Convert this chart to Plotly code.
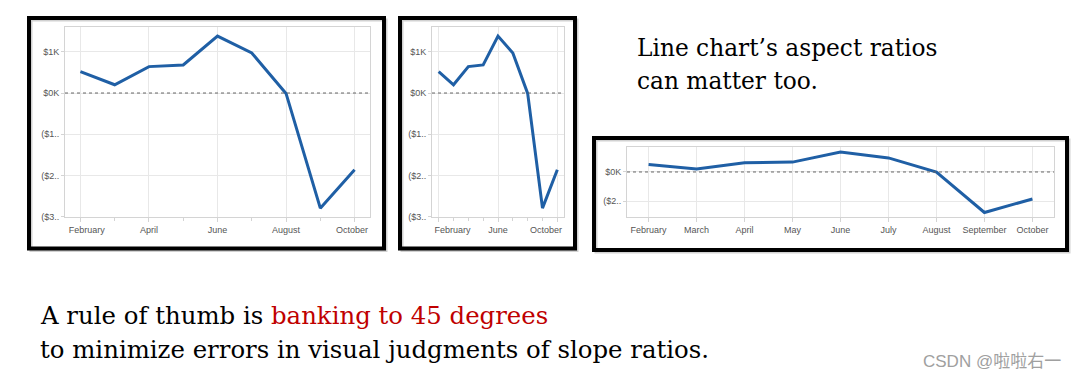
import plotly.graph_objects as go

months = ["February", "March", "April", "May", "June", "July", "August", "September", "October"]
profit = [520, 200, 640, 680, 1380, 970, -10, -2790, -1860]

y_tick_vals = [1000, 0, -1000, -2000, -3000]
y_tick_text = ["$1K", "$0K", "($1..", "($2..", "($3.."]
y_tick_vals_wide = [0, -2000]
y_tick_text_wide = ["$0K", "($2.."]

title_lines = ["Line chart\u2019s aspect ratios", "can matter too."]
rule_line1 = 'A rule of thumb is <span style="color:#c00000">banking to 45 degrees</span>'
rule_line2 = "to minimize errors in visual judgments of slope ratios."
watermark = "CSDN @\u5566\u5566\u53f3\u4e00"

W, H = 1072, 381
def fx(px):
    return px / W
def fy(py):
    return 1 - py / H

xs = list(range(len(months)))
LINE_COLOR = "#1f5fa5"
GRID = "#e8e8e8"
AXLINE = "#d4d4d4"
TICKFONT = dict(family="Liberation Sans, Arial, sans-serif", size=9, color="#555555")
NB = "\u00a0"

fig = go.Figure()

# (axis id, plot box px, label step, y vals, y text, y range, (left pad, right pad) for edge labels)
panels = [
    ("", (65, 370, 27, 217), 2, y_tick_vals, y_tick_text, [-3005, 1600], (5, 2)),
    ("2", (432, 564, 27, 217), 4, y_tick_vals, y_tick_text, [-3005, 1600], (11, 9)),
    ("3", (627, 1054, 147, 217), 1, y_tick_vals_wide, y_tick_text_wide, [-3100, 1720], (0, 0)),
]

layout = dict()
shapes = []
for aid, (x0, x1, y0, y1), step, yv, yt, yr, (lp, rp) in panels:
    fig.add_trace(go.Scatter(
        x=xs, y=profit, mode="lines",
        line=dict(color=LINE_COLOR, width=3),
        xaxis="x" + aid, yaxis="y" + aid, showlegend=False, hoverinfo="skip"))
    tv = [i for i in xs if i % step == 0]
    tt = [months[i] for i in tv]
    tt[0] = NB * lp + tt[0]
    tt[-1] = tt[-1] + NB * rp
    layout["xaxis" + aid] = dict(
        domain=[fx(x0), fx(x1)], anchor="y" + aid, range=[-0.45, 8.45],
        tickmode="array", tickvals=tv, ticktext=tt,
        showgrid=True, gridcolor=GRID, gridwidth=1,
        showline=True, linecolor=AXLINE, linewidth=1, mirror=True,
        ticks="outside", ticklen=4, tickcolor=AXLINE,
        minor=dict(dtick=1, tick0=0, ticks="outside", ticklen=3, tickcolor=AXLINE, showgrid=False),
        tickfont=TICKFONT, zeroline=False, fixedrange=True, automargin=False)
    layout["yaxis" + aid] = dict(
        domain=[fy(y1), fy(y0)], anchor="x" + aid, range=yr,
        tickmode="array", tickvals=yv, ticktext=yt,
        showgrid=True, gridcolor=GRID, gridwidth=1,
        showline=True, linecolor=AXLINE, linewidth=1, mirror=True,
        ticks="outside", ticklen=3, tickcolor=AXLINE,
        tickfont=TICKFONT, zeroline=False, fixedrange=True, automargin=False)
    shapes.append(dict(type="line", xref="x" + aid + " domain", yref="y" + aid,
                       x0=0, x1=1, y0=0, y1=0,
                       line=dict(color="#666666", width=1, dash="dot"), layer="above"))

frames = [(29, 384, 18, 248.5), (400, 575, 18, 248.5), (594, 1067, 138, 250)]
for (a, b, c, d) in frames:
    shapes.append(dict(type="rect", xref="paper", yref="paper",
                       x0=fx(a + 2), x1=fx(b + 2), y0=fy(c + 2), y1=fy(d + 2),
                       line=dict(color="rgba(0,0,0,0.18)", width=3), layer="below"))
    shapes.append(dict(type="rect", xref="paper", yref="paper",
                       x0=fx(a), x1=fx(b), y0=fy(c), y1=fy(d),
                       line=dict(color="#000000", width=4), layer="above"))

SERIF = "DejaVu Serif, Liberation Serif, serif"
annotations = [
    dict(text=title_lines[0], x=fx(635), y=fy(47), xanchor="left", yanchor="middle",
         font=dict(family=SERIF, size=23.3, color="#000000")),
    dict(text=title_lines[1], x=fx(635), y=fy(80), xanchor="left", yanchor="middle",
         font=dict(family=SERIF, size=23.3, color="#000000")),
    dict(text=rule_line1, x=fx(38), y=fy(315), xanchor="left", yanchor="middle",
         font=dict(family=SERIF, size=24.4, color="#000000")),
    dict(text=rule_line2, x=fx(38), y=fy(349), xanchor="left", yanchor="middle",
         font=dict(family=SERIF, size=24.4, color="#000000")),
    dict(text=watermark, x=fx(921), y=fy(361), xanchor="left", yanchor="middle",
         font=dict(family="Liberation Sans, Noto Sans CJK SC, sans-serif", size=17, color="#a0a0a0")),
]
for a in annotations:
    a.update(xref="paper", yref="paper", showarrow=False)

fig.update_layout(
    width=W, height=H, margin=dict(l=0, r=0, t=0, b=0, autoexpand=False),
    paper_bgcolor="white", plot_bgcolor="white",
    shapes=shapes, annotations=annotations, **layout)

fig.write_html("out.html", config={"displayModeBar": False},
               post_script="document.body.style.margin='0';document.body.style.overflow='hidden';")
